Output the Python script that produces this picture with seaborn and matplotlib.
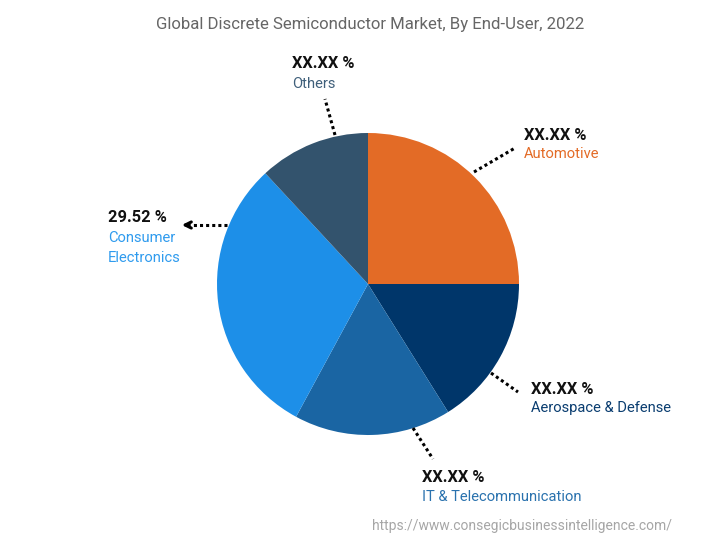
import matplotlib
matplotlib.use("Agg")
import matplotlib.pyplot as plt
import seaborn as sns

categories = ["Automotive", "Aerospace & Defense", "IT & Telecommunication", "Consumer\nElectronics", "Others"]
shares = [25.0, 16.1, 16.8, 30.2, 11.9]
value_labels = ["XX.XX %", "XX.XX %", "XX.XX %", "29.52 %", "XX.XX %"]
colors = ["#E36B26", "#00366A", "#1A65A3", "#1D8FE8", "#33536D"]
label_colors = ["#E36B26", "#0A3D70", "#2A72AE", "#2F9BEE", "#3F5F7A"]

W, H = 724, 543

# label positions in image pixels: left x, y of value text, y of name text
label_x = [524, 531, 422, 108, 292]
value_y = [136, 389, 478, 217, 64]
name_y = [154, 408, 497, 248, 84]
leaders = [
    ((474, 172), (515, 148)),
    ((491, 373), (518, 392)),
    ((413, 428), (433, 459)),
    ((227, 225), (190, 225)),
    ((335, 135), (325, 99)),
]

sns.set_theme(style="white")
plt.rcParams["font.family"] = ["Roboto", "DejaVu Sans"]

fig = plt.figure(figsize=(W / 100, H / 100), dpi=100)
ax = fig.add_axes([0, 0, 1, 1])

ax.pie(shares, colors=sns.color_palette(colors), startangle=90, counterclock=False,
       center=(368, H - 284), radius=151, wedgeprops=dict(linewidth=0))
ax.set_xlim(0, W)
ax.set_ylim(0, H)
ax.set_aspect("equal")
ax.axis("off")

for i, name in enumerate(categories):
    ax.text(label_x[i], H - value_y[i], value_labels[i], fontsize=11.8, fontweight="bold",
            color="#111111", va="center", ha="left")
    ax.text(label_x[i], H - name_y[i], name, fontsize=10.6, color=label_colors[i],
            va="center", ha="left", linespacing=1.6)
    p0, p1 = leaders[i]
    ax.plot([p0[0], p1[0]], [H - p0[1], H - p1[1]], color="black", lw=2.2, linestyle=(0, (1, 1)))

# arrow head on the consumer electronics leader
ax.annotate("", xy=(179, H - 225), xytext=(192, H - 225),
            arrowprops=dict(arrowstyle="->", color="black", lw=2.2, mutation_scale=11))

ax.text(370.5, H - 24.5, "Global Discrete Semiconductor Market, By End-User, 2022",
        fontsize=12.1, color="#666666", ha="center", va="center")
ax.text(672, H - 526, "https://www.consegicbusinessintelligence.com/",
        fontsize=10, color="#A6A6A6", ha="right", va="center")

fig.savefig("out.png", dpi=100)
